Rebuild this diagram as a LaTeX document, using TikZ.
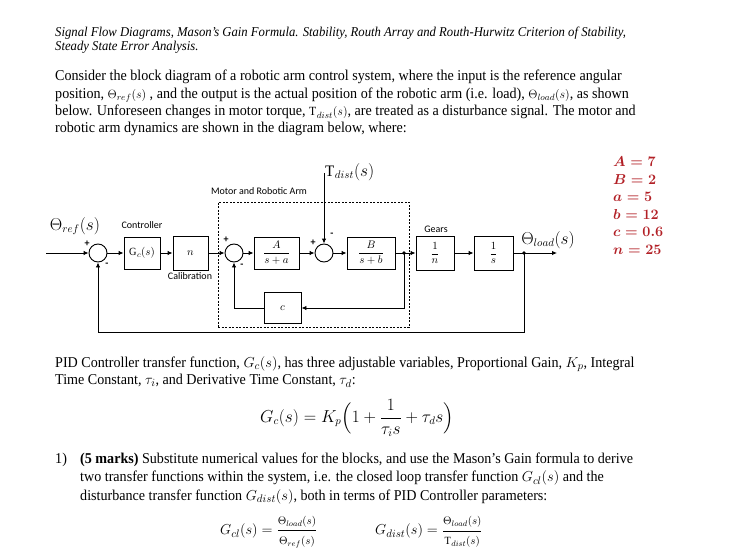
\documentclass[tikz,border=0pt]{standalone}
\usepackage{amsmath}
\usepackage{fontspec}
\setmainfont{Liberation Serif}[FakeStretch=0.94]
\newfontfamily\calib{Carlito}
\usetikzlibrary{arrows.meta,calc}
\definecolor{cred}{RGB}{178,32,38}
\newcommand{\txtf}{\fontsize{15}{17}\selectfont}
\newcommand{\hdrf}{\fontsize{13.5}{15}\selectfont\itshape}
\newcommand{\inm}[1]{{\fontsize{12.5}{14}\selectfont$#1$}}
\newcommand{\smf}[1]{\text{\fontsize{11}{12}\selectfont$#1$}}
\begin{document}
\begin{tikzpicture}[x=1pt,y=-1pt,
  txt/.style={anchor=base west,inner sep=0pt,font=\txtf},
  hdr/.style={anchor=base west,inner sep=0pt,font=\hdrf},
  blk/.style={draw,line width=0.9pt,rectangle,inner sep=1pt,font=\fontsize{10.5}{12}\selectfont},
  sumc/.style={draw,line width=0.9pt,circle,minimum size=18pt,inner sep=0pt},
  lbl/.style={inner sep=0pt,font=\calib\fontsize{10}{11}\selectfont},
  sgn/.style={inner sep=0pt,font=\calib\bfseries\fontsize{10}{11}\selectfont},
  arr/.style={line width=0.9pt,-{Latex[length=5pt,width=4.5pt]}},
  cst/.style={anchor=west,inner sep=0pt,text=cred,font=\fontsize{14}{16}\selectfont\boldmath},
  sig/.style={inner sep=0pt,font=\fontsize{16}{18}\selectfont}]
\useasboundingbox (0,0) rectangle (731,559);

% header
\node[hdr] (h1) at (55,37) {Signal Flow Diagrams, Mason's Gain Formula. Stability, Routh Array and Routh-Hurwitz Criterion of Stability,};
\node[hdr] (h2) at (55,51) {Steady State Error Analysis.};

% paragraph
\node[txt] (p1) at (55,81) {Consider the block diagram of a robotic arm control system, where the input is the reference angular};
\node[txt] (p2) at (55,98.5) {position, \inm{\Theta_{ref}(s)} , and the output is the actual position of the robotic arm (i.e. load), \inm{\Theta_{load}(s)}, as shown};
\node[txt] (p3) at (55,116) {below. Unforeseen changes in motor torque, \inm{\mathrm{T}_{dist}(s)}, are treated as a disturbance signal. The motor and};
\node[txt] (p4) at (55,133) {robotic arm dynamics are shown in the diagram below, where:};

% constants
\node[cst] (kA) at (613,162) {$A = 7$};
\node[cst] (kB) at (613,179.5) {$B = 2$};
\node[cst] (ka) at (613,197) {$a = 5$};
\node[cst] (kb) at (613,214.5) {$b = 12$};
\node[cst] (kc) at (613,232) {$c = 0.6$};
\node[cst] (kn) at (613,249.5) {$n = 25$};

% block diagram
\node[draw,dashed,dash pattern=on 2pt off 1.5pt,line width=0.6pt,minimum width=191pt,minimum height=125pt,inner sep=0pt] (mra) at (313.5,264.5) {};
\coordinate (in) at (46,253);
\node[sumc] (s1) at (98,253) {};
\node[blk,minimum width=36pt,minimum height=32pt] (gc) at (142,253) {\fontsize{11}{12}\selectfont$\mathrm{G}_c(s)$};
\node[blk,minimum width=35pt,minimum height=34pt] (nb) at (190.5,253) {$n$};
\node[sumc] (s2) at (234,253) {};
\node[blk,minimum width=45pt,minimum height=32pt] (ab) at (276.5,253) {$\dfrac{A}{s+a}$};
\node[sumc] (s3) at (324,253) {};
\node[blk,minimum width=48pt,minimum height=32pt] (bb) at (371,253) {$\dfrac{B}{s+b}$};
\coordinate (d1) at (404,253);
\node[blk,minimum width=38pt,minimum height=34pt] (gi) at (435,253) {$\dfrac{1}{n}$};
\node[blk,minimum width=39pt,minimum height=34pt] (si) at (493.5,253) {$\dfrac{1}{s}$};
\coordinate (d2) at (524,253);
\coordinate (out) at (557,253);
\coordinate (td) at (324,173);
\node[blk,minimum width=37pt,minimum height=31pt] (cb) at (282.5,308) {$c$};
\coordinate (fb) at (98,332);

\draw[arr] (in) -- (s1);
\draw[arr] (s1) -- (gc);
\draw[arr] (gc) -- (nb);
\draw[arr] (nb) -- (s2);
\draw[arr] (s2) -- (ab);
\draw[arr] (ab) -- (s3);
\draw[arr] (s3) -- (bb);
\draw[arr] (bb) -- (gi);
\draw[arr] (gi) -- (si);
\draw[arr] (si) -- (out);
\draw[arr] (td) -- (s3);
\draw[arr] (d1) |- (cb);
\draw[arr] (cb) -| (s2);
\draw[arr] (d2) |- (fb) -- (s1);
\fill (d1) circle (1.8pt);
\fill (d2) circle (1.8pt);

% signs
\node[sgn] (p1s) at (87,244) {+};
\node[sgn] (m1s) at (107,265) {-};
\node[sgn] (p2s) at (226,240) {+};
\node[sgn] (m2s) at (242,266) {-};
\node[sgn] (p3s) at (313,243) {+};
\node[sgn] (m3s) at (332,235) {-};

% labels
\node[lbl] (lc) at (142,225) {Controller};
\node[lbl] (lcal) at (190,276) {Calibration};
\node[lbl] (lg) at (436,229) {Gears};
\node[lbl] (lm) at (259,191) {Motor and Robotic Arm};
\node[sig] (lref) at (75,226) {$\Theta_{ref}(s)$};
\node[sig,anchor=west] (ltd) at (325,172) {$\mathrm{T}_{dist}(s)$};
\node[sig] (lload) at (548,240) {$\Theta_{load}(s)$};

% lower text
\node[txt] (q1) at (55,367) {PID Controller transfer function, $G_c(s)$, has three adjustable variables, Proportional Gain, $K_p$, Integral};
\node[txt] (q2) at (55,384.5) {Time Constant, $\tau_i$, and Derivative Time Constant, $\tau_d$:};
\node[anchor=west,inner sep=0pt,font=\fontsize{16}{18}\selectfont] (eq1) at (260,418) {$G_c(s) = K_p\Bigl(1+\dfrac{1}{\tau_i s}+\tau_d s\Bigr)$};
\node[txt] (r0) at (55,463) {1)};
\node[txt] (r1) at (80,463) {\textbf{(5 marks)} Substitute numerical values for the blocks, and use the Mason's Gain formula to derive};
\node[txt] (r2) at (80,481.5) {two transfer functions within the system, i.e. the closed loop transfer function $G_{cl}(s)$ and the};
\node[txt] (r3) at (80,500) {disturbance transfer function $G_{dist}(s)$, both in terms of PID Controller parameters:};
\node[anchor=west,inner sep=0pt,font=\txtf] (eq2) at (220,532) {$G_{cl}(s) = \dfrac{\smf{\Theta_{load}(s)}}{\smf{\Theta_{ref}(s)}}$};
\node[anchor=west,inner sep=0pt,font=\txtf] (eq3) at (375,532) {$G_{dist}(s) = \dfrac{\smf{\Theta_{load}(s)}}{\smf{\mathrm{T}_{dist}(s)}}$};
\end{tikzpicture}
\end{document}
